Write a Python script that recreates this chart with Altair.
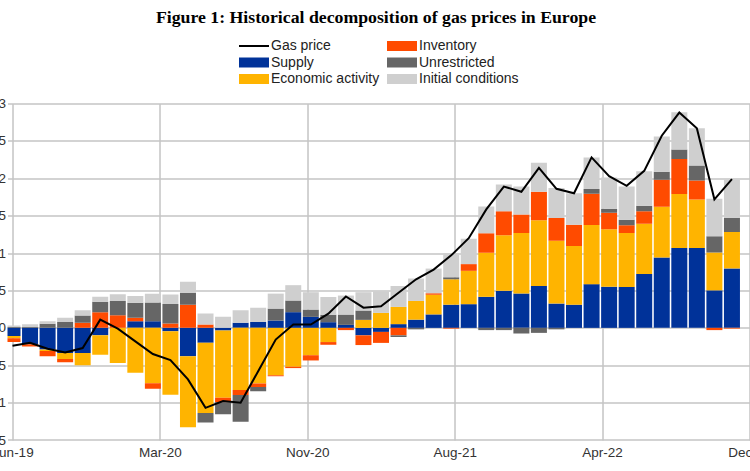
import altair as alt
import pandas as pd

# ---- data ----
months = ["Jun-19", "Jul-19", "Aug-19", "Sep-19", "Oct-19", "Nov-19", "Dec-19",
          "Jan-20", "Feb-20", "Mar-20", "Apr-20", "May-20", "Jun-20", "Jul-20",
          "Aug-20", "Sep-20", "Oct-20", "Nov-20", "Dec-20", "Jan-21", "Feb-21",
          "Mar-21", "Apr-21", "May-21", "Jun-21", "Jul-21", "Aug-21", "Sep-21",
          "Oct-21", "Nov-21", "Dec-21", "Jan-22", "Feb-22", "Mar-22", "Apr-22",
          "May-22", "Jun-22", "Jul-22", "Aug-22", "Sep-22", "Oct-22", "Nov-22"]
tick_labels = ["Jun-19", "Mar-20", "Nov-20", "Aug-21", "Apr-22", "Dec-22"]

supply = [-0.11, -0.22, -0.29, -0.335, -0.335, -0.098, 0.0, 0.09, 0.09, -0.045,
          -0.38, -0.2, -0.035, 0.067, 0.08, 0.098, 0.21, 0.147, 0.076, 0.04,
          -0.1, -0.054, 0.05, 0.11, 0.18, 0.31, 0.317, 0.415, 0.495, 0.46,
          0.56, 0.325, 0.31, 0.585, 0.55, 0.548, 0.72, 0.94, 1.07, 1.07,
          0.502, 0.795]
economic_activity = [-0.03, 0.0, -0.02, -0.08, -0.165, -0.26, -0.47, -0.60, -0.74, -0.85,
                     -0.95, -0.94, -0.9, -0.83, -0.745, -0.634, -0.52, -0.366, -0.19, 0.0,
                     0.107, 0.2, 0.23, 0.25, 0.263, 0.34, 0.446, 0.59, 0.745, 0.81,
                     0.88, 0.84, 0.785, 0.79, 0.77, 0.72, 0.674, 0.68, 0.72, 0.647,
                     0.507, 0.487]
inventory = [-0.05, -0.03, -0.07, -0.045, 0.067, 0.21, 0.17, 0.045, -0.076, 0.06,
             0.31, 0.045, -0.06, -0.067, -0.045, -0.013, -0.018, -0.07, -0.036, -0.03,
             -0.13, -0.147, -0.1, 0.0, 0.02, -0.01, 0.09, 0.26, 0.32, 0.245,
             0.38, 0.305, 0.285, 0.42, 0.22, 0.105, 0.165, 0.36, 0.47, 0.254,
             -0.03, -0.01]
unrestricted = [0.01, 0.01, 0.054, 0.08, 0.10, 0.138, 0.19, 0.2, 0.25, 0.26,
                0.16, -0.125, -0.16, -0.36, -0.058, 0.16, 0.156, 0.098, 0.1, 0.138,
                0.125, 0.0, -0.022, -0.02, 0.0, 0.027, 0.0, -0.03, -0.03, -0.076,
                -0.067, -0.02, 0.0, 0.064, 0.055, 0.073, 0.076, 0.11, 0.125, 0.2,
                0.218, 0.19]
initial_conditions = [0.02, 0.04, 0.036, 0.054, 0.067, 0.067, 0.09, 0.09, 0.116, 0.125,
                      0.147, 0.147, 0.15, 0.17, 0.19, 0.2, 0.205, 0.232, 0.237, 0.254,
                      0.245, 0.29, 0.28, 0.3, 0.33, 0.32, 0.34, 0.357, 0.357, 0.375,
                      0.39, 0.40, 0.42, 0.42, 0.415, 0.446, 0.46, 0.47, 0.5, 0.5,
                      0.5, 0.51]
gas_price = [-0.24, -0.20, -0.28, -0.33, -0.27, 0.11, -0.01, -0.18, -0.35, -0.43,
             -0.69, -1.07, -0.98, -1.0, -0.58, -0.156, 0.045, 0.045, 0.19, 0.42,
             0.27, 0.29, 0.47, 0.65, 0.78, 0.97, 1.2, 1.585, 1.89, 1.82,
             2.14, 1.86, 1.80, 2.28, 2.03, 1.90, 2.10, 2.57, 2.88, 2.67,
             1.72, 1.99]

series_names = ["Supply", "Economic activity", "Inventory", "Unrestricted", "Initial conditions"]
series_values = [supply, economic_activity, inventory, unrestricted, initial_conditions]
# legend is filled column by column
legend_order = ["Gas price", "Supply", "Economic activity", "Inventory", "Unrestricted", "Initial conditions"]
legend_colors = ["#000000", "#003299", "#FFB400", "#FF4B00", "#666666", "#CFCFCF"]
y_ticks = [-1.5, -1, -0.5, 0, 0.5, 1, 1.5, 2, 2.5, 3]

# ---- tables ----
rows = []
for k, (name, vals) in enumerate(zip(series_names, series_values)):
    for i, v in enumerate(vals):
        rows.append({"idx": i, "month": months[i], "series": name, "order": k, "value": v})
bars_df = pd.DataFrame(rows)
line_df = pd.DataFrame({"idx": list(range(len(gas_price))), "month": months, "gas": gas_price})

n_months = len(months)  # axis spans Jun-19 .. Dec-22
tick_step = n_months / (len(tick_labels) - 1)
x_ticks = [round(i * tick_step, 4) for i in range(len(tick_labels))]
label_expr = "[" + ",".join("'%s'" % t for t in tick_labels) + "][round(datum.value / %s)]" % tick_step

FONT = "Liberation Sans"
x_scale = alt.Scale(domain=[0, n_months], nice=False, zero=False)
y_scale = alt.Scale(domain=[-1.5, 3], nice=False, zero=False)


def x_axis():
    return alt.Axis(values=x_ticks, labelExpr=label_expr, title=None, grid=True,
                    gridColor="#a6a6a6", gridWidth=1, ticks=False, domain=False,
                    labelFlush=False, labelOverlap=False, labelBound=False, labelFont=FONT,
                    labelFontSize=13.5, labelColor="#333333", labelPadding=5)


def y_axis():
    return alt.Axis(values=y_ticks, title=None, grid=True, gridColor="#c4c4c4",
                    gridWidth=1.5, ticks=False, domain=False, labelFont=FONT,
                    labelFontSize=13.5, labelColor="#333333", labelPadding=2,
                    labelOverlap=False, labelFlush=False, labelBound=False,
                    labelExpr="format(datum.value, '~g')")


rect_path = "M-1,-1H5V1H-1Z"
line_path = "M-1,-0.2H5V0.2H-1Z"
legend_shapes = [line_path if n == "Gas price" else rect_path for n in legend_order]


def make_legend():
    return alt.Legend(
        title=None, orient="none", legendX=229.5, legendY=-64.6, columns=2,
        symbolSize=100, symbolStrokeWidth=0, symbolOpacity=1,
        labelOffset=20, labelFontSize=14, labelFont=FONT, labelColor="#222222",
        rowPadding=2.5, columnPadding=5, padding=0, labelLimit=300,
    )


color_scale = alt.Scale(domain=legend_order, range=legend_colors)
shape_scale = alt.Scale(domain=legend_order, range=legend_shapes)

bars = alt.Chart(bars_df).mark_bar(width=16, clip=True).encode(
    x=alt.X("idx:Q", scale=x_scale, axis=x_axis()),
    y=alt.Y("value:Q", scale=y_scale, axis=y_axis(), stack="zero"),
    color=alt.Color("series:N", scale=color_scale, legend=make_legend()),
    order=alt.Order("order:Q"),
)

# invisible points: only carry the legend symbols (shape per series)
keys = alt.Chart(bars_df).mark_point(filled=True, opacity=0, size=100, clip=True).encode(
    x=alt.X("idx:Q", scale=x_scale, axis=x_axis()),
    y=alt.Y("value:Q", scale=y_scale, axis=y_axis()),
    color=alt.Color("series:N", scale=color_scale, legend=make_legend()),
    shape=alt.Shape("series:N", scale=shape_scale, legend=make_legend()),
)

line = alt.Chart(line_df).mark_line(color="black", strokeWidth=2).encode(
    x=alt.X("idx:Q", scale=x_scale, axis=x_axis()),
    y=alt.Y("gas:Q", scale=y_scale, axis=y_axis()),
)

# the plot runs a few pixels past the right edge of the picture, as in the reference
chart = alt.layer(bars, keys, line).properties(
    width=747,
    height=336.4,
    title=alt.Title("Figure 1: Historical decomposition of gas prices in Europe",
                    font="Liberation Serif", fontSize=17.75, fontWeight="bold",
                    anchor="middle", frame="group", offset=16, dy=18, baseline="alphabetic",
                    dx=-5, color="#000000"),
    autosize=alt.AutoSizeParams(type="none"),
    padding={"left": 7.5, "top": 103.6, "right": -4.5, "bottom": 31},
    background="white",
).configure_view(stroke=None).configure_axis(labelOverlap=False)

chart.save("out.html", embed_options={"renderer": "svg", "actions": False})
